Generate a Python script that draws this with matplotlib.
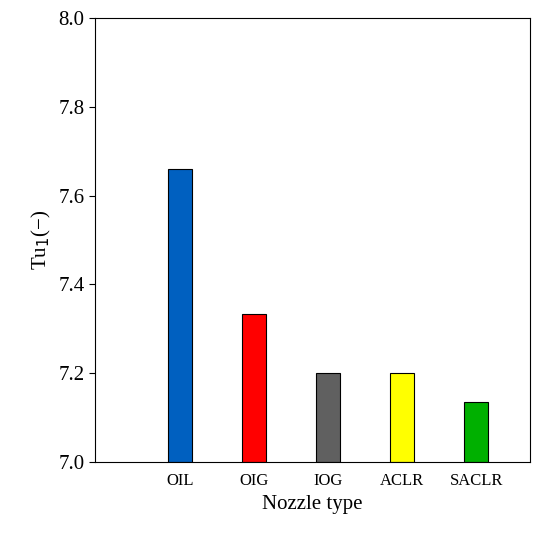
import matplotlib
matplotlib.use("Agg")
import matplotlib.pyplot as plt

categories = ["OIL", "OIG", "IOG", "ACLR", "SACLR"]
values = [7.66, 7.333, 7.2, 7.2, 7.135]
colors = ["#0060c0", "#ff0000", "#606060", "#ffff00", "#00b000"]

plt.rcParams['font.family'] = ['Liberation Serif', 'DejaVu Serif']
fig = plt.figure(figsize=(5.5, 5.41), dpi=100)
ax = fig.add_axes([0.173, 0.146, 0.791, 0.821])
pos = list(range(1, len(categories) + 1))
ax.bar(pos, [v - 7.0 for v in values], bottom=7.0, width=0.33, color=colors,
       edgecolor="black", linewidth=0.8)
ax.set_xlim(-0.149, 5.73)
ax.set_ylim(7.0, 8.0)
ax.set_yticks([7.0, 7.2, 7.4, 7.6, 7.8, 8.0])
ax.set_yticklabels(["7.0", "7.2", "7.4", "7.6", "7.8", "8.0"], fontsize=15)
ax.set_xticks(pos)
ax.set_xticklabels(categories, fontsize=12)
ax.tick_params(axis='x', length=0, pad=8)
ax.tick_params(axis='y', direction='out', length=4)
ax.set_xlabel("Nozzle type", fontsize=15)
ax.set_ylabel("Tu$_1$(−)", fontsize=15)
fig.savefig("out.png", dpi=100)
